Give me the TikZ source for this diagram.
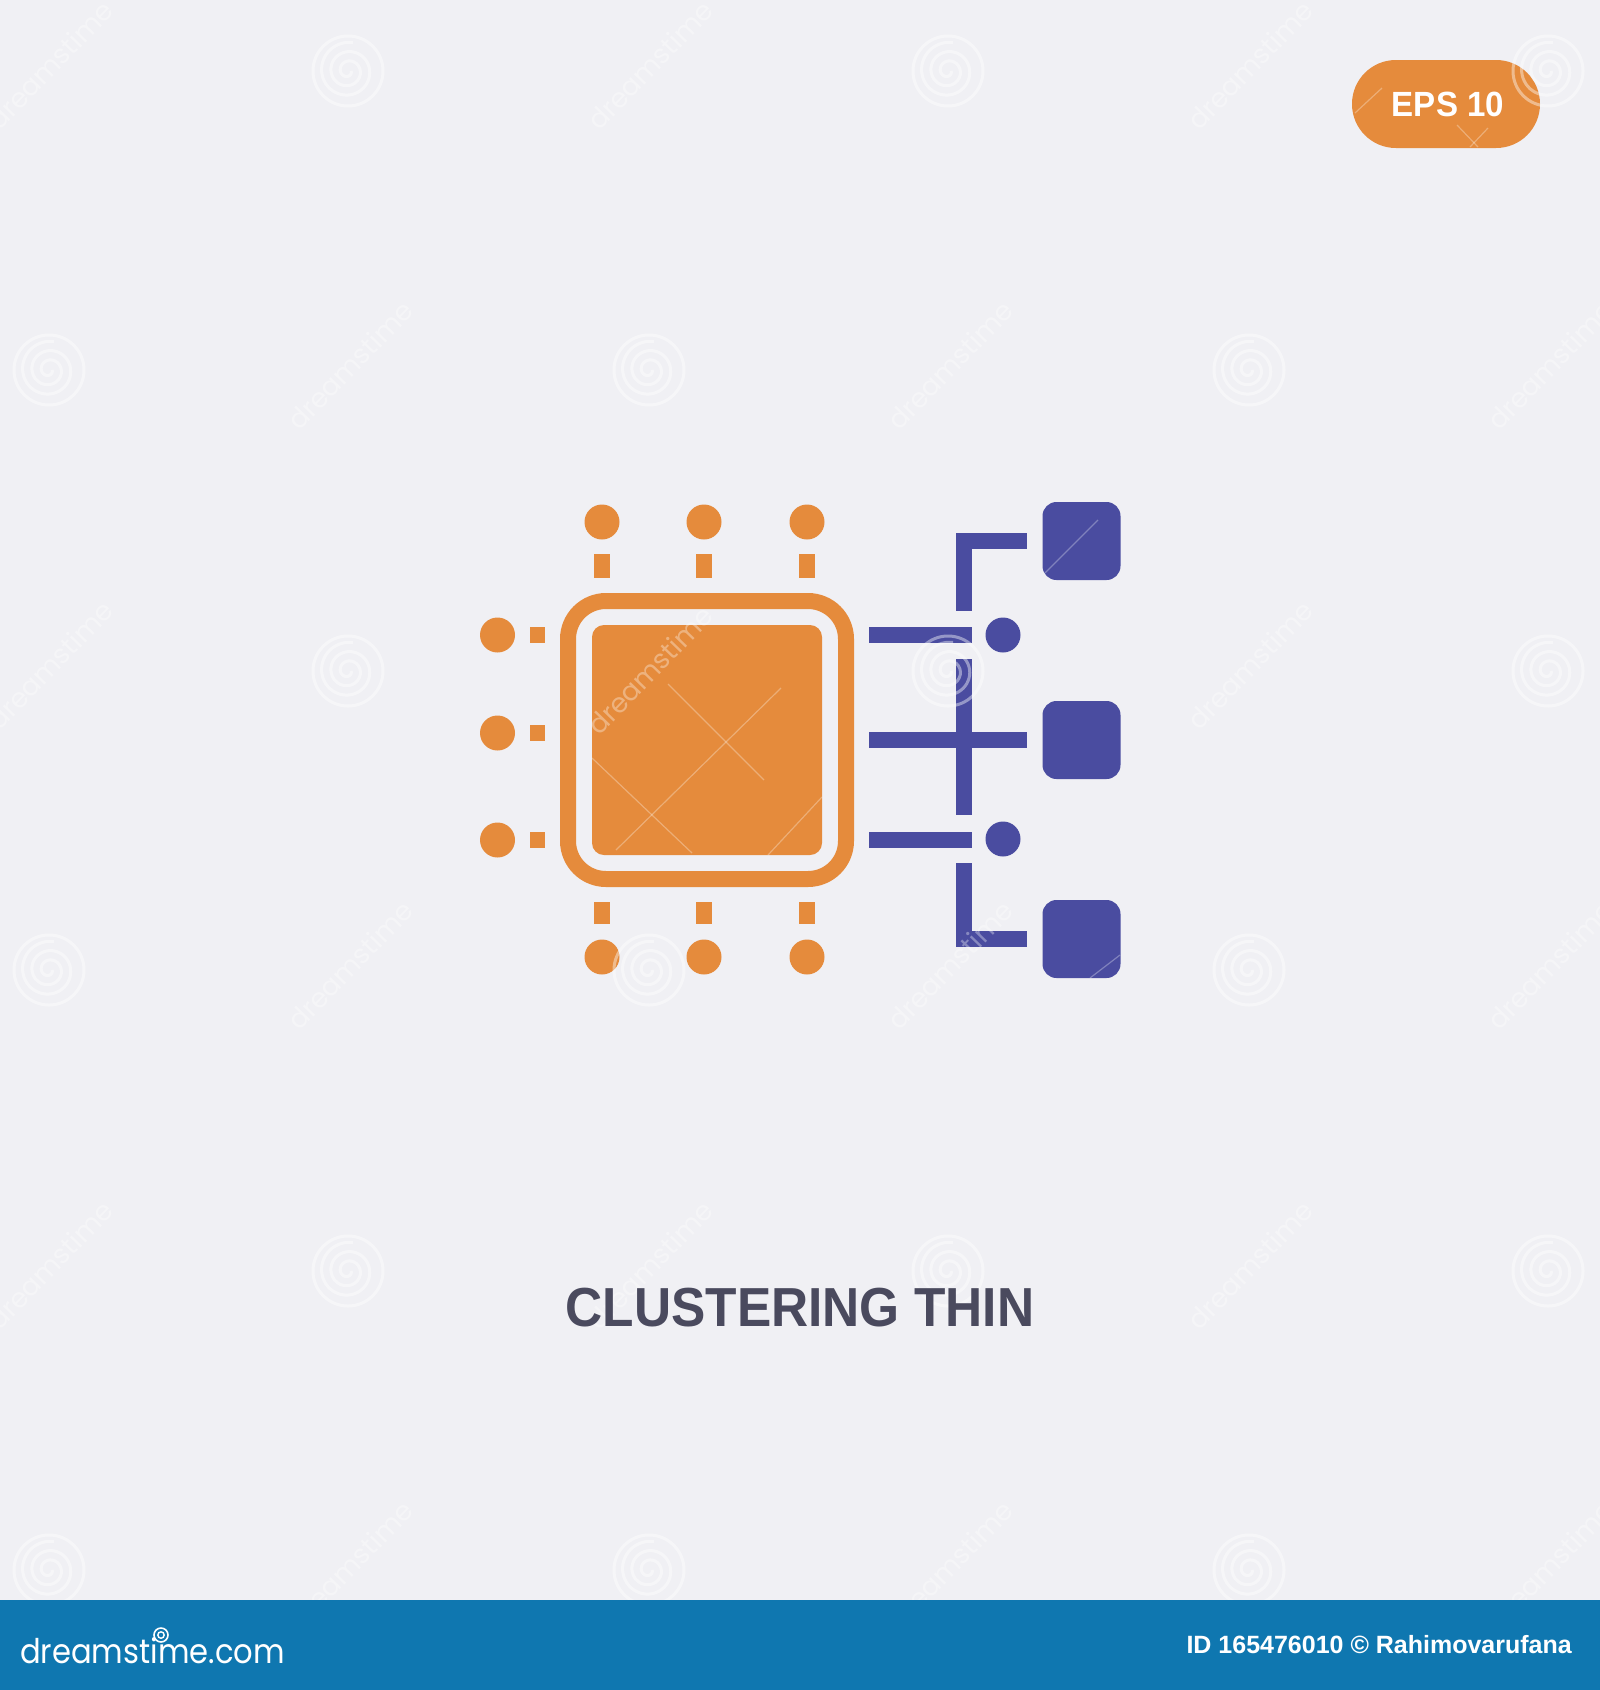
\documentclass[tikz,border=0pt]{standalone}
\usepackage{fontspec}
\setmainfont{Liberation Sans}
\newfontfamily\wmfont{Poppins}
\newfontfamily\ttlfont{Liberation Sans Bold}[FakeStretch=0.935]
\newfontfamily\epsfont{Liberation Sans Bold}[FakeStretch=0.945]
\newfontfamily\brandfont{Poppins}[FakeStretch=0.9]
\definecolor{bgc}{HTML}{F0F0F4}
\definecolor{org}{HTML}{E58B3C}
\definecolor{blu}{HTML}{4A4CA0}
\definecolor{foot}{HTML}{0F77B0}
\definecolor{ttl}{HTML}{4A4A5E}
\tikzset{
  x=1pt,y=-1pt,
  odot/.style={circle,fill=org,minimum size=35pt,inner sep=0pt,outer sep=0pt},
  bdot/.style={circle,fill=blu,minimum size=35pt,inner sep=0pt,outer sep=0pt},
  bsq/.style={rectangle,rounded corners=14pt,fill=blu,minimum width=78pt,minimum height=78pt,inner sep=0pt,outer sep=0pt},
  bwire/.style={draw=blu,line width=16pt,line cap=butt,line join=miter},
  otick/.style={draw=org,line width=16pt,line cap=butt},
  wmtxt/.style={white,opacity=.34,font=\wmfont\fontsize{27}{27}\selectfont,rotate=46,inner sep=0pt},
  wmsp/.style={draw=white,opacity=.42,line width=3pt},
  thinw/.style={draw=white,opacity=.3,line width=1.2pt}
}
\newcommand{\wmspiral}[2]{%
  \draw[wmsp,shift={(#1,#2)}] (0,0) circle[radius=35pt];
  \draw[wmsp,shift={(#1,#2)},smooth,samples=70,domain=0:1000,variable=\t]
    plot ({(3+0.026*\t)*cos(\t)},{(3+0.026*\t)*sin(\t)});
}
\begin{document}
\begin{tikzpicture}
\useasboundingbox (0,0) rectangle (1600,1690);
\fill[bgc] (0,0) rectangle (1600,1690);

% chip
\draw[draw=org,line width=16pt,rounded corners=38pt] (568,601) rectangle (846,879);
\fill[org,rounded corners=12pt] (592,625) rectangle (822,855);

% pins
\foreach \n/\x in {a/602,b/704,c/807}{
  \node[odot] (top\n) at (\x,522) {};
  \node[odot] (bot\n) at (\x,957) {};
  \draw[otick] (\x,554) -- (\x,578);
  \draw[otick] (\x,902) -- (\x,924);
}
\foreach \n/\y in {a/635,b/733,c/840}{
  \node[odot] (lft\n) at (497.5,\y) {};
  \draw[otick] (530,\y) -- (545,\y);
}

% right-hand blue
\node[bsq] (sqa) at (1081.5,541) {};
\node[bsq] (sqb) at (1081.5,740) {};
\node[bsq] (sqc) at (1081.5,939) {};
\node[bdot] (dta) at (1003,635) {};
\node[bdot] (dtb) at (1003,839) {};
\draw[bwire] (1026.5,541) -- (964,541) -- (964,611);
\draw[bwire] (869,635) -- (972,635);
\draw[bwire] (964,659) -- (964,815);
\draw[bwire] (869,740) -- (1026.5,740);
\draw[bwire] (869,840) -- (972,840);
\draw[bwire] (964,863) -- (964,939) -- (1026.5,939);

% badge
\fill[org,rounded corners=43.9pt] (1352,60) rectangle (1540,148);

% watermark
\foreach \x/\y in {348/71,948/71,1548/71,49/370,649/370,1249/370,348/671,948/671,1548/671,49/970,649/970,1249/970,348/1271,948/1271,1548/1271,49/1570,649/1570,1249/1570}{
  \wmspiral{\x}{\y}
}
\foreach \x/\y in {50/65,650/65,1250/65,350/365,950/365,1550/365,50/665,650/670,1250/665,350/965,950/965,1550/965,50/1265,650/1265,1250/1265,350/1565,950/1565,1550/1565}{
  \node[wmtxt] (wm\x-\y) at (\x,\y) {dreamstime};
}
\draw[thinw] (668,684) -- (764,780);
\draw[thinw] (781,688) -- (616,850);
\draw[thinw] (592,758) -- (692,853);
\draw[thinw] (822,797) -- (768,855);
\draw[thinw] (1355,113) -- (1382,88);
\draw[thinw] (1457,125) -- (1478,147);
\draw[thinw] (1488,128) -- (1470,147);
\draw[thinw] (1098,520) -- (1045,573);
\draw[thinw] (1120,955) -- (1090,978);

% footer
\fill[foot] (0,1600) rectangle (1600,1690);
\draw[white,line width=1.6pt] (161,1635) circle[radius=7pt];
\draw[white,line width=1.4pt] (161,1635) circle[radius=3.2pt];

% text
\node[font=\ttlfont\fontsize{55}{60}\selectfont,text=ttl,inner sep=0pt,anchor=center] (ttlnode) at (800,1308) {CLUSTERING THIN};
\node[font=\epsfont\fontsize{35}{40}\selectfont,text=white,inner sep=0pt] (eps) at (1448,104) {EPS 10};
\node[font=\brandfont\fontsize{34}{40}\selectfont,text=white,inner sep=0pt,anchor=base west] (brand) at (20,1663) {dreamstime.com};
\node[font=\bfseries\fontsize{25}{28}\selectfont,text=white,inner sep=0pt,anchor=base east] (idn) at (1572,1653) {ID 165476010 © Rahimovarufana};
\end{tikzpicture}
\end{document}
